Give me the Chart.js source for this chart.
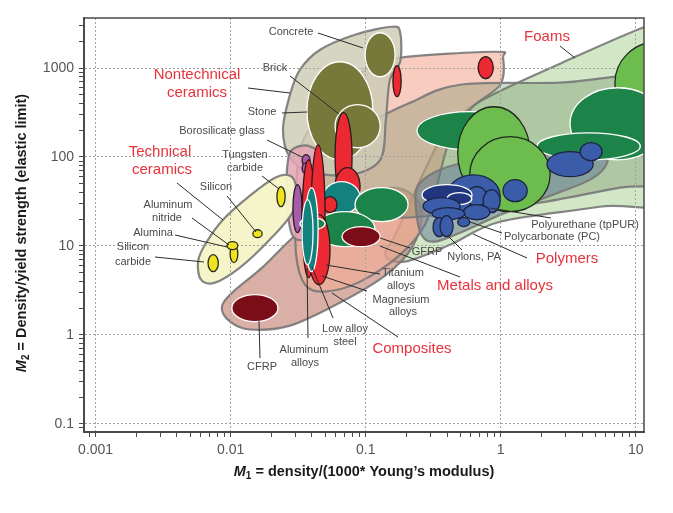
<!DOCTYPE html>
<html lang="en">
<head>
<meta charset="utf-8" />
<title>Ashby chart: M1 vs M2</title>
<script src="https://cdn.jsdelivr.net/npm/chart.js@4.4.1/dist/chart.umd.min.js"></script>
<style>
    html, body { margin: 0; padding: 0; background: #fff; }
    #chart { display: block; width: 673px; height: 513px; }
</style>
</head>
<body>
<canvas id="chart" width="673" height="513"></canvas>
<script>
// ---- axes ----
const xTickValues = [0.001, 0.01, 0.1, 1, 10];
const xTickLabels = ['0.001', '0.01', '0.1', '1', '10'];
const yTickValues = [0.1, 1, 10, 100, 1000];
const yTickLabels = ['0.1', '1', '10', '100', '1000'];
const xRange = [0.00082, 11.5];
const yRange = [0.081, 3650];

// ---- family envelopes (boundary points, M1 / M2 values) ----
const familyNames = ['Foams', 'Elastomers', 'Polymers', 'Composites', 'Metals and alloys',
    'Nontechnical ceramics', 'Glasses', 'Technical ceramics'];
const familyM1 = [
    [0.14, 0.17, 0.27, 0.39, 0.7, 2.75, 12.8, 30, 30, 5.4, 1.0, 0.42, 0.2],
    [0.0421, 0.0646, 0.108, 0.213, 0.5, 2.75, 30, 30, 7.65, 1.95, 0.59, 0.18, 0.0703, 0.0459],
    [0.244, 0.355, 0.70, 1.65, 3.55, 5.44, 6.13, 4.59, 2.13, 1.0, 0.5, 0.326, 0.261, 0.236],
    [0.0086, 0.0099, 0.0139, 0.0275, 0.0646, 0.139, 0.22, 0.261, 0.22, 0.151, 0.0765, 0.0326, 0.0171, 0.0102],
    [0.099, 0.18, 0.91, 1.04, 0.99, 0.61, 0.42, 0.338, 0.275, 0.18, 0.091, 0.05, 0.0355, 0.0305, 0.0305, 0.0326, 0.0459],
    [0.0275, 0.0326, 0.0459, 0.0833, 0.157, 0.18, 0.18, 0.151, 0.141, 0.128, 0.0765, 0.0387, 0.0275, 0.0244],
    [0.0266, 0.03, 0.0387, 0.0444, 0.0444, 0.0355, 0.0285, 0.0261],
    [0.00573, 0.00645, 0.00877, 0.0139, 0.0213, 0.0275, 0.0305, 0.0289, 0.0195, 0.0117, 0.00765, 0.00603]
];
const familyM2 = [
    [7.8, 14.5, 68, 190, 420, 1120, 3070, 4300, 43, 27.6, 18.8, 10.3, 6.7],
    [81.9, 137, 243, 407, 649, 684, 778, 63, 45.2, 30.7, 24.3, 20.8, 24.3, 37.7],
    [47.6, 72, 93, 103, 115, 115, 86, 55.6, 34.9, 22.5, 14.1, 11.2, 13.1, 25.6],
    [2.03, 1.41, 1.15, 1.27, 2.31, 4.64, 9.57, 22.5, 37.7, 45.2, 33.1, 14.5, 5.7, 2.95],
    [957, 1305, 1524, 1305, 649, 358, 156, 48.8, 17.4, 7.98, 3.97, 3.07, 3.67, 7.98, 33.1, 121, 299],
    [501, 957, 1605, 2367, 2911, 2493, 1177, 739, 262, 93, 63, 68, 98, 203],
    [93, 127, 131, 93, 15.2, 11.8, 13.4, 33.1],
    [6.66, 10.3, 19.7, 36.8, 58.5, 61.6, 45.2, 24.3, 11.8, 5.7, 3.87, 4.18]
];
const familyFill = ['rgba(196,224,182,0.78)', 'rgba(105,135,90,0.32)', 'rgba(95,120,150,0.5)',
    'rgba(195,128,112,0.62)', 'rgba(244,172,150,0.6)', 'rgba(205,204,180,0.82)',
    'rgba(228,165,182,0.85)', 'rgba(246,245,200,0.97)'];
// back-to-front order of the envelopes
const familyOrder = [0, 3, 4, 1, 2, 5, 6, 7];

// ---- material bubbles (property ranges) ----
const materialNames = ['Foam A', 'Foam B', 'Foam C', 'Foam D', 'Elastomer A', 'Elastomer B',
    'Polymer 1', 'Polymer 2', 'Polymer 3', 'Polymer 4', 'Polymer 6', 'Polymer 7', 'Polymer 8',
    'Polyurethane (tpPUR)', 'Polycarbonate (PC)', 'Polymer 5', 'Polymer 9', 'Nylons, PA', 'Polymer 10', 'Polymer 11',
    'Concrete', 'Stone', 'Brick',
    'Metal 1', 'Metal 2', 'Metal 3', 'Metal 4', 'Composite 1', 'Composite 2', 'GFRP', 'Metal 5', 'Metal 6',
    'Borosilicate glass', 'Glass 2', 'Glass 3',
    'Titanium alloys', 'Low alloy steel', 'Magnesium alloys', 'Composite 3', 'Aluminum alloys', 'Metal 7',
    'Tungsten carbide', 'Silicon', 'Aluminum nitride', 'Alumina', 'Silicon carbide', 'CFRP'];
const materialKind = ['lightGreen', 'darkGreen', 'darkGreen', 'darkGreen', 'lightGreen', 'lightGreen',
    'blue', 'blue', 'blue', 'blue', 'blue', 'blue', 'blue',
    'navy', 'navy', 'blue', 'blue', 'blue', 'blue', 'blue',
    'olive', 'olive', 'olive',
    'red', 'red', 'teal', 'red', 'darkGreen', 'darkGreen', 'maroon', 'red', 'red',
    'purple', 'purple', 'purple',
    'red', 'red', 'red', 'darkGreen', 'teal', 'teal',
    'yellow', 'yellow', 'yellow', 'yellow', 'yellow', 'maroon'];
const m1Low = [7.0, 3.26, 1.86, 0.24, 0.48, 0.59,
    2.2, 3.87, 1.04, 0.40, 0.56, 0.74, 0.53,
    0.261, 0.40, 0.266, 0.31, 0.315, 0.355, 0.48,
    0.099, 0.0367, 0.0593,
    0.0593, 0.0593, 0.0483, 0.0483, 0.0833, 0.0421, 0.0668, 0.68, 0.159,
    0.0338, 0.0338, 0.0289,
    0.0338, 0.0394, 0.0374, 0.0326, 0.0355, 0.0338,
    0.022, 0.0146, 0.0099, 0.0094, 0.0068, 0.0102];
const m1High = [30, 16.5, 10.8, 1.44, 1.65, 2.32,
    4.83, 5.63, 1.57, 0.99, 0.79, 0.99, 0.83,
    0.613, 0.61, 0.50, 0.54, 0.387, 0.444, 0.59,
    0.165, 0.113, 0.128,
    0.0792, 0.0908, 0.0908, 0.0613, 0.206, 0.117, 0.128, 0.88, 0.183,
    0.0387, 0.0387, 0.0338,
    0.0421, 0.05, 0.0544, 0.05, 0.0444, 0.0407,
    0.0253, 0.0171, 0.0113, 0.0113, 0.0081, 0.0224];
const m2Low = [231, 93, 93, 121, 33, 24.3,
    60, 91, 31.5, 21.3, 27.6, 23.7, 19.7,
    29.1, 29.1, 22.5, 19.7, 12.7, 12.7, 16.5,
    798, 93, 127,
    33.1, 29.1, 23.1, 23.7, 18.8, 9.82, 9.82, 758, 476,
    80, 65, 14.1,
    4.4, 3.67, 3.67, 15.2, 5.14, 6.17,
    27.6, 12.4, 6.5, 9.1, 5.14, 1.41];
const m2High = [1975, 600, 187, 323, 367, 169,
    115, 145, 55.6, 63, 46.4, 42.9, 29.1,
    48.8, 39.7, 35, 26.9, 20.8, 21.9, 20.8,
    2493, 1177, 387,
    315, 75.8, 52.8, 35.8, 45.2, 24.3, 16.5, 1340, 1062,
    106, 86, 48.8,
    93, 137, 22.5, 20.8, 45.2, 33.1,
    46.4, 15.2, 10.3, 11.2, 7.98, 2.84];

const kindStyle = {
    lightGreen: ['#6cbd4e', '#1e2a1e'],
    darkGreen: ['#1c8448', '#ffffff'],
    blue: ['#3a5ca9', '#1d2340'],
    navy: ['#22367f', '#ffffff'],
    olive: ['#77793a', '#ffffff'],
    red: ['#ec2833', '#2a1a1a'],
    teal: ['#13817d', '#ffffff'],
    maroon: ['#7b0d19', '#ffffff'],
    purple: ['#a65ca8', '#2a1a2a'],
    yellow: ['#ede31f', '#2a2a1a']
};

// ---- annotations (canvas pixels) ----
const familyText = [
    ['Foams', 547, 37], ['Nontechnical', 197, 75], ['ceramics', 197, 93],
    ['Technical', 160, 152], ['ceramics', 162, 170], ['Polymers', 567, 259],
    ['Metals and alloys', 495, 286], ['Composites', 412, 349]
];
const materialText = [
    ['Concrete', 291, 32], ['Brick', 275, 68], ['Stone', 262, 112], ['Borosilicate glass', 222, 131],
    ['Tungsten', 245, 155], ['carbide', 245, 168], ['Silicon', 216, 187],
    ['Aluminum', 168, 205], ['nitride', 167, 218], ['Alumina', 153, 233],
    ['Silicon', 133, 247], ['carbide', 133, 262], ['CFRP', 262, 367],
    ['Aluminum', 304, 350], ['alloys', 305, 363], ['Low alloy', 345, 329], ['steel', 345, 342],
    ['Magnesium', 401, 300], ['alloys', 403, 312], ['Titanium', 403, 273], ['alloys', 401, 286],
    ['GFRP', 427, 252], ['Nylons, PA', 474, 257],
    ['Polyurethane (tpPUR)', 585, 225], ['Polycarbonate (PC)', 552, 237]
];
const leaders = [
    [318, 33, 363, 48], [290, 76, 339, 114], [282, 113, 307, 112], [267, 140, 302, 157],
    [262, 176, 279, 189], [227, 196, 256, 232], [192, 218, 229, 245], [175, 235, 227, 247],
    [155, 257, 204, 262], [260, 358, 259, 321], [308, 338, 307, 268], [333, 318, 312, 267],
    [367, 291, 322, 276], [380, 274, 326, 265], [410, 248, 380, 238], [462, 250, 448, 236],
    [551, 218, 490, 208], [502, 233, 470, 222], [527, 258, 473, 234], [460, 277, 380, 246],
    [398, 337, 332, 293], [248, 88, 290, 93], [177, 183, 223, 220], [560, 46, 575, 58]
];

const FONT = '"Liberation Sans", Arial, Helvetica, sans-serif';

function logTicks(min, max) {
    const out = [];
    for (let e = Math.floor(Math.log10(min)); e <= Math.ceil(Math.log10(max)); e++) {
        for (let k = 1; k <= 9; k++) {
            const v = Number((k * Math.pow(10, e)).toPrecision(6));
            if (v >= min && v <= max) out.push({ value: v });
        }
    }
    return out;
}
function isDecade(v) {
    const l = Math.log10(v);
    return Math.abs(l - Math.round(l)) < 1e-6;
}
function tickText(v, values, labels) {
    const i = values.findIndex(t => Math.abs(Math.log10(t) - Math.log10(v)) < 1e-6);
    return i >= 0 ? labels[i] : '';
}

// smooth closed outline through the given pixel points
function smoothClosed(ctx, pts) {
    const n = pts.length;
    ctx.beginPath();
    ctx.moveTo(pts[0][0], pts[0][1]);
    for (let i = 0; i < n; i++) {
        const p0 = pts[(i - 1 + n) % n], p1 = pts[i], p2 = pts[(i + 1) % n], p3 = pts[(i + 2) % n];
        ctx.bezierCurveTo(p1[0] + (p2[0] - p0[0]) / 6, p1[1] + (p2[1] - p0[1]) / 6,
            p2[0] - (p3[0] - p1[0]) / 6, p2[1] - (p3[1] - p1[1]) / 6, p2[0], p2[1]);
    }
    ctx.closePath();
}

function clipArea(chart) {
    const a = chart.chartArea, ctx = chart.ctx;
    ctx.beginPath();
    ctx.rect(a.left, a.top, a.right - a.left, a.bottom - a.top);
    ctx.clip();
}

function drawSubTitle(ctx, cx, cy, angle, sub, rest) {
    ctx.save();
    ctx.translate(cx, cy);
    ctx.rotate(angle);
    const fMain = 'bold 14.5px ' + FONT, fItal = 'italic bold 14.5px ' + FONT, fSub = 'bold 10px ' + FONT;
    ctx.font = fItal; const wM = ctx.measureText('M').width;
    ctx.font = fSub; const wS = ctx.measureText(sub).width;
    ctx.font = fMain; const wR = ctx.measureText(rest).width;
    let x = -(wM + wS + wR) / 2;
    ctx.textBaseline = 'middle';
    ctx.textAlign = 'left';
    ctx.fillStyle = '#1a1a1a';
    ctx.font = fItal; ctx.fillText('M', x, 0); x += wM;
    ctx.font = fSub; ctx.fillText(sub, x, 4); x += wS;
    ctx.font = fMain; ctx.fillText(rest, x, 0);
    ctx.restore();
}

const ashbyPlugin = {
    id: 'ashby',
    beforeDraw(chart) {
        // family envelopes sit under the grid
        const ctx = chart.ctx, xs = chart.scales.x, ys = chart.scales.y;
        ctx.save();
        clipArea(chart);
        familyOrder.forEach(f => {
            const pts = familyM1[f].map((v, i) => [xs.getPixelForValue(v), ys.getPixelForValue(familyM2[f][i])]);
            smoothClosed(ctx, pts);
            ctx.fillStyle = familyFill[f];
            ctx.fill();
            ctx.lineWidth = 2.2;
            ctx.strokeStyle = 'rgba(120,120,120,0.9)';
            ctx.stroke();
        });
        ctx.restore();
    },
    beforeDatasetsDraw(chart) {
        const ctx = chart.ctx, xs = chart.scales.x, ys = chart.scales.y;
        ctx.save();
        clipArea(chart);
        materialNames.forEach((name, i) => {
            const x1 = xs.getPixelForValue(m1Low[i]), x2 = xs.getPixelForValue(m1High[i]);
            const y1 = ys.getPixelForValue(m2Low[i]), y2 = ys.getPixelForValue(m2High[i]);
            const st = kindStyle[materialKind[i]];
            ctx.beginPath();
            ctx.ellipse((x1 + x2) / 2, (y1 + y2) / 2, Math.abs(x2 - x1) / 2, Math.abs(y2 - y1) / 2, 0, 0, Math.PI * 2);
            ctx.fillStyle = st[0];
            ctx.fill();
            ctx.lineWidth = 1.3;
            ctx.strokeStyle = st[1];
            ctx.stroke();
        });
        ctx.restore();
    },
    afterDraw(chart) {
        const ctx = chart.ctx, a = chart.chartArea;
        ctx.save();
        // frame top / right
        ctx.strokeStyle = '#4a4a4a';
        ctx.lineWidth = 1.5;
        ctx.beginPath();
        ctx.moveTo(a.left, a.top);
        ctx.lineTo(a.right, a.top);
        ctx.lineTo(a.right, a.bottom);
        ctx.stroke();
        // leader lines
        ctx.strokeStyle = '#2b2b2b';
        ctx.lineWidth = 1;
        leaders.forEach(l => {
            ctx.beginPath();
            ctx.moveTo(l[0], l[1]);
            ctx.lineTo(l[2], l[3]);
            ctx.stroke();
        });
        ctx.textAlign = 'center';
        ctx.textBaseline = 'middle';
        ctx.font = '11px ' + FONT;
        ctx.fillStyle = '#4a4a4a';
        materialText.forEach(t => ctx.fillText(t[0], t[1], t[2]));
        ctx.font = '15px ' + FONT;
        ctx.fillStyle = '#e8313b';
        familyText.forEach(t => ctx.fillText(t[0], t[1], t[2]));
        ctx.restore();
        drawSubTitle(ctx, 364, 472, 0, '1', ' = density/(1000* Young\u2019s modulus)');
        drawSubTitle(ctx, 22, 233, -Math.PI / 2, '2', ' = Density/yield strength (elastic limit)');
    }
};

const centers = materialNames.map((n, i) => ({
    x: Math.sqrt(m1Low[i] * m1High[i]),
    y: Math.sqrt(m2Low[i] * m2High[i])
}));

new Chart(document.getElementById('chart'), {
    type: 'scatter',
    data: {
        datasets: [{ label: 'Materials', data: centers, pointRadius: 0, pointHoverRadius: 0 }]
    },
    options: {
        responsive: false,
        animation: false,
        events: [],
        layout: { padding: { top: 18, right: 29, left: 0, bottom: 0 } },
        plugins: { legend: { display: false }, tooltip: { enabled: false } },
        scales: {
            x: {
                type: 'logarithmic',
                min: xRange[0],
                max: xRange[1],
                afterFit(s) { s.height = 81; },
                afterBuildTicks(s) { s.ticks = logTicks(xRange[0], xRange[1]); },
                ticks: {
                    autoSkip: false, maxRotation: 0, padding: 5, color: '#555',
                    font: { family: FONT, size: 14 },
                    callback: v => tickText(v, xTickValues, xTickLabels)
                },
                grid: {
                    color: c => (c.tick && isDecade(c.tick.value)) ? '#a3a3a3' : 'rgba(0,0,0,0)',
                    tickColor: '#4a4a4a', tickLength: 5, lineWidth: 1
                },
                border: { color: '#4a4a4a', width: 2, dash: [2, 2] }
            },
            y: {
                type: 'logarithmic',
                min: yRange[0],
                max: yRange[1],
                afterFit(s) { s.width = 84; },
                afterBuildTicks(s) { s.ticks = logTicks(yRange[0], yRange[1]); },
                ticks: {
                    autoSkip: false, padding: 5, color: '#555',
                    font: { family: FONT, size: 14 },
                    callback: v => tickText(v, yTickValues, yTickLabels)
                },
                grid: {
                    color: c => (c.tick && isDecade(c.tick.value)) ? '#a3a3a3' : 'rgba(0,0,0,0)',
                    tickColor: '#4a4a4a', tickLength: 5, lineWidth: 1
                },
                border: { color: '#4a4a4a', width: 2, dash: [2, 2] }
            }
        }
    },
    plugins: [ashbyPlugin]
});
</script>
</body>
</html>
